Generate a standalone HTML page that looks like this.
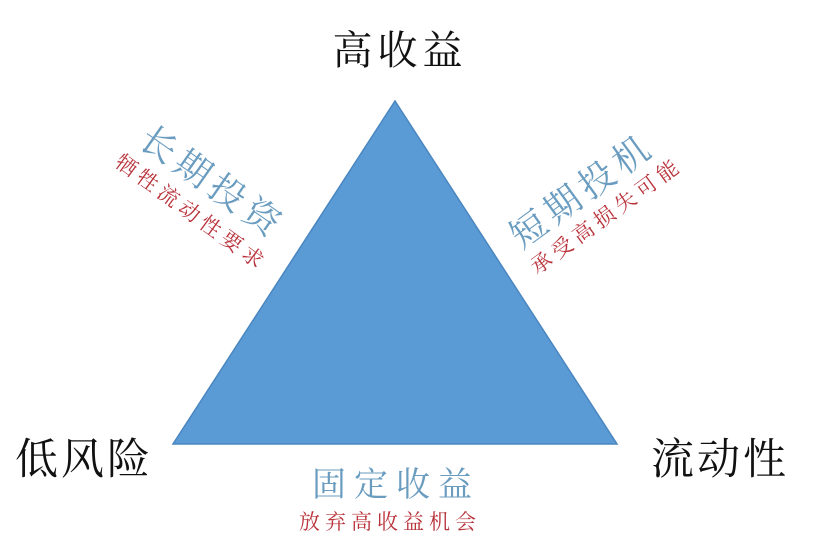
<!DOCTYPE html>
<html><head><meta charset="utf-8"><style>
html,body{margin:0;padding:0;background:#fff;}
svg{display:block}
text{font-family:"Liberation Serif","Noto Serif CJK SC",serif;}
</style></head><body>
<svg width="828" height="560" viewBox="0 0 828 560" xmlns="http://www.w3.org/2000/svg">
<rect width="828" height="560" fill="#fff"/>
<polygon points="395,101 173,444 617,444" fill="#5b9bd5" stroke="#4a86bf" stroke-width="1.5"/>
<text x="400" y="64" font-size="40" text-anchor="middle" fill="#111" letter-spacing="5">高收益</text>
<text x="84" y="474" font-size="43" text-anchor="middle" fill="#111" letter-spacing="3">低风险</text>
<text x="720" y="474" font-size="43" text-anchor="middle" fill="#111" letter-spacing="3">流动性</text>
<text x="396" y="496" font-size="34" text-anchor="middle" fill="#6a9cc0" letter-spacing="8">固定收益</text>
<text x="390" y="529" font-size="21" text-anchor="middle" fill="#b8323a" letter-spacing="5">放弃高收益机会</text>
<g transform="translate(213,182) rotate(35)">
<text x="0" y="13" font-size="36" text-anchor="middle" fill="#6a9cc0" letter-spacing="6">长期投资</text>
</g>
<g transform="translate(192,212) rotate(36)">
<text x="0" y="8" font-size="21" text-anchor="middle" fill="#b8323a" letter-spacing="5">牺牲流动性要求</text>
</g>
<g transform="translate(582,190) rotate(-36)">
<text x="0" y="13" font-size="36" text-anchor="middle" fill="#6a9cc0" letter-spacing="6">短期投机</text>
</g>
<g transform="translate(606,215) rotate(-36)">
<text x="0" y="8" font-size="21" text-anchor="middle" fill="#b8323a" letter-spacing="5">承受高损失可能</text>
</g>
</svg>
</body></html>
